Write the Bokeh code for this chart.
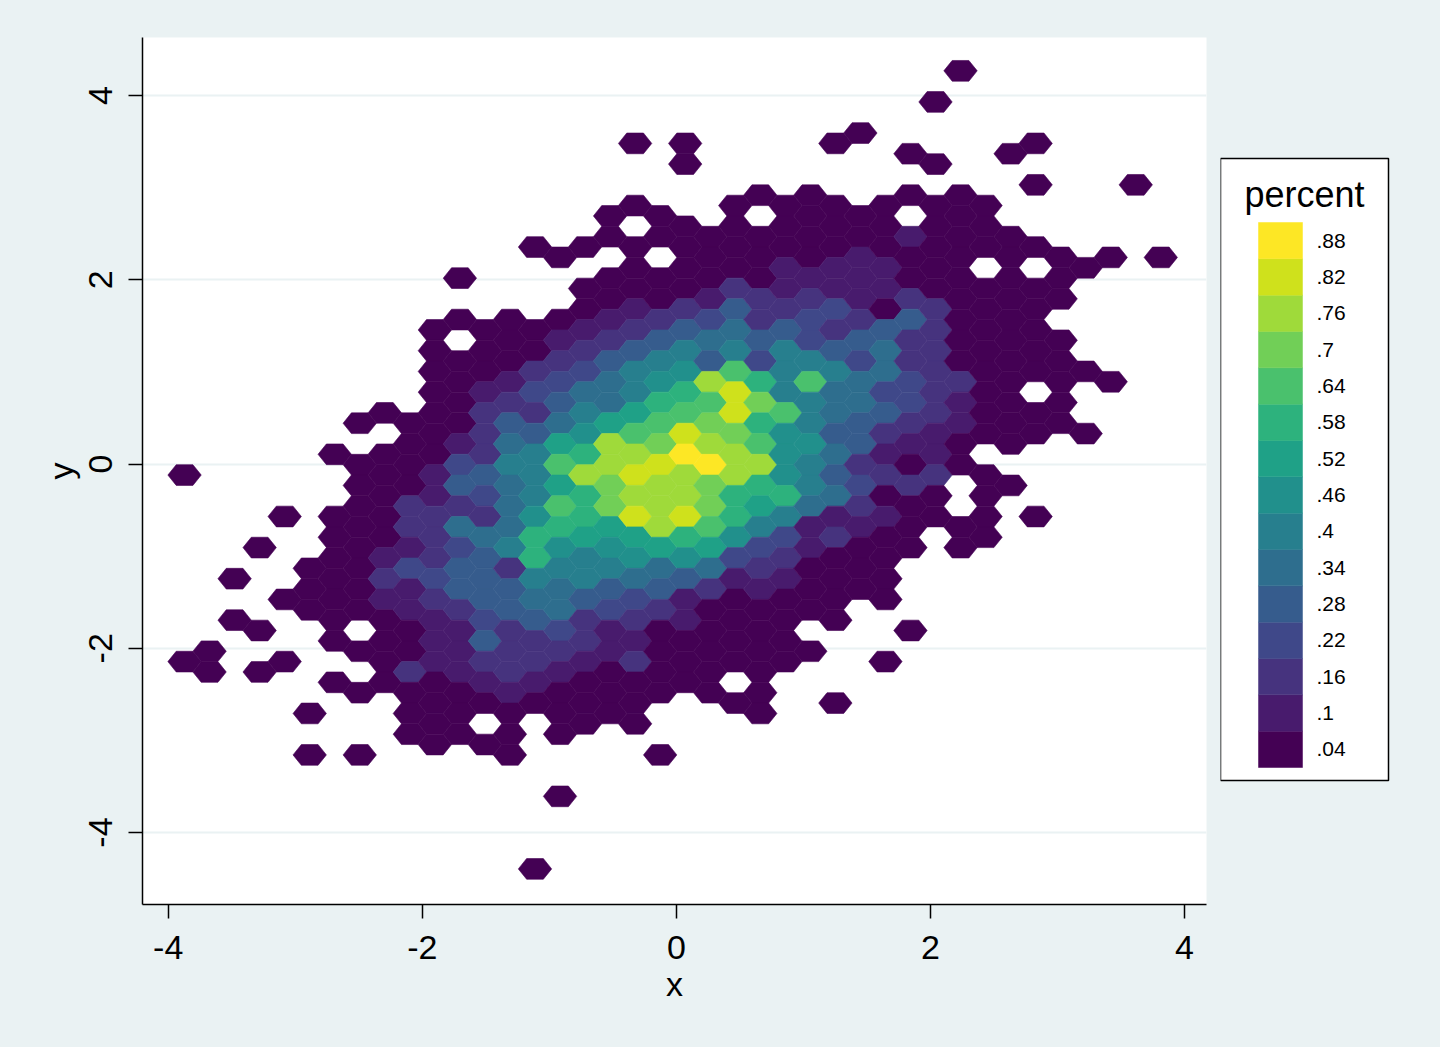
from bokeh.plotting import figure
from bokeh.layouts import row
from bokeh.models import Range1d, FixedTicker, ColumnDataSource, CustomJSTickFormatter
from bokeh.embed import file_html
from bokeh.resources import INLINE
from bokeh.core.properties import value

FONT = "Liberation Sans"
BG = "#EAF2F3"

# ---- colour scale (legend) ----
LEVEL_VALUES = [0.04, 0.10, 0.16, 0.22, 0.28, 0.34, 0.40, 0.46, 0.52, 0.58, 0.64, 0.70, 0.76, 0.82, 0.88]
LEVEL_LABELS = [".04", ".1", ".16", ".22", ".28", ".34", ".4", ".46", ".52", ".58", ".64", ".7", ".76", ".82", ".88"]
PALETTE = ["#440154", "#481B6D", "#46337E", "#3F4889", "#365C8D", "#2E6E8E", "#277F8E", "#21908C",
           "#1FA187", "#2DB27D", "#4AC16D", "#71CF57", "#9FDA3A", "#CFE11C", "#FDE725"]
TICKS = [-4, -2, 0, 2, 4]

# ---- hexagon bin grid (data units) ----
X0 = -3.8715    # centre of bin column 0
DX = 0.19704    # column step
Y0 = 4.2681     # centre of half-row 0
DYH = 0.11251   # half-row step (columns alternate by half a row)

# per column: first half-row index, then level (1..f = colour class) for every second half-row; '.' = empty bin
COL_START = [39, 56, 49, 46, 43, 48, 37, 34, 33, 34, 25, 20, 25, 24, 17, 18, 17, 14, 7, 14,
             7, 16, 13, 12, 13, 12, 7, 6, 13, 8, 3, 0, 13, 8, 7, 18, 19, 18, 11, 18]
COL_LEVELS = [
    "1........1",
    "11",
    "1.1",
    "1...1.1",
    "1...1..1",
    "111....1.1",
    "1..1111111.1",
    "1.11111111.1.1..1",
    "1.111112321111",
    "1111332422113111",
    "111111122333432221111",
    "1.1.1111245364553222111",
    "1112333543655545321.1",
    "1112356766673553332111",
    "1...1134357778aa7653321.......1",
    "1..1234569b9ba8766432111..1",
    "1.11234678adaa9775332111",
    "11.11235669ddcc9875422111",
    "1..1.111235779bdede9864323111",
    "11.113578abceddd96531111..1",
    "11..11113578abefddea8522111",
    "1112465dbcdfccb96311111",
    "11113567beecddaa8421111.1",
    "1.1113354acabda97432111111",
    "1112235777b888a74321111",
    "111123447b77877622111.1",
    "1..111224357665656231111...1",
    "1...1122235466553432111",
    "11122156645323121111..1",
    "1.1.2113533443213111...1",
    "1..1.1111133333322311",
    "1.....11111111132211..11",
    "111.11111111.1111",
    "1...11111111111.1",
    "1.1..1.11111.11...1",
    "111.11111",
    "1....1..1",
    "1.....1",
    "1",
    "1",
]

xs_c, ys_c, lev = [], [], []
for i, (k0, s) in enumerate(zip(COL_START, COL_LEVELS)):
    assert (i + k0) % 2 == 1
    for m, ch in enumerate(s):
        if ch == ".":
            continue
        k = k0 + 2 * m
        xs_c.append(X0 + DX * i)
        ys_c.append(Y0 - DYH * k)
        lev.append(int(ch, 16))

R = DX / 1.5
H = DYH
hx = [[x + R, x + R / 2, x - R / 2, x - R, x - R / 2, x + R / 2] for x in xs_c]
hy = [[y, y + H, y + H, y, y - H, y - H] for y in ys_c]
src = ColumnDataSource(dict(xs=hx, ys=hy, color=[PALETTE[v - 1] for v in lev],
                            percent=[LEVEL_VALUES[v - 1] for v in lev]))

# ---- main plot ----
p = figure(width=1220, height=1047, x_range=Range1d(-4.2025, 4.173), y_range=Range1d(-4.7815, 4.630),
           output_backend="svg", toolbar_location=None,
           min_border_left=142, min_border_right=14, min_border_top=37, min_border_bottom=143)
p.background_fill_color = "white"
p.border_fill_color = BG
p.outline_line_color = None

p.patches("xs", "ys", source=src, fill_color="color", line_color="color", line_width=0.6)

fmt = CustomJSTickFormatter(code="return String(tick);")
for ax in (p.xaxis[0], p.yaxis[0]):
    ax.ticker = FixedTicker(ticks=TICKS)
    ax.formatter = fmt
    ax.minor_tick_line_color = None
    ax.major_tick_in = 0
    ax.major_tick_out = 14
    ax.major_tick_line_width = 1.5
    ax.axis_line_width = 1.5
    ax.axis_line_color = "black"
    ax.major_tick_line_color = "black"
    ax.major_label_text_font = FONT
    ax.major_label_text_font_size = "34px"
    ax.major_label_text_color = "black"
    ax.axis_label_text_font = FONT
    ax.axis_label_text_font_size = "34px"
    ax.axis_label_text_font_style = "normal"
    ax.axis_label_text_color = "black"

p.xaxis.axis_label = "x"
p.yaxis.axis_label = "y"
p.xaxis.major_label_standoff = 17
p.xaxis.axis_label_standoff = 3
p.yaxis.major_label_orientation = "vertical"
p.yaxis.major_label_standoff = 16
p.yaxis.axis_label_standoff = 7

p.xgrid.visible = False
p.ygrid.ticker = FixedTicker(ticks=TICKS)
p.ygrid.grid_line_color = BG
p.ygrid.grid_line_width = 2

# ---- legend panel (same frame height as the main plot; legend value scale on y) ----
# y maps legend values: .91 -> band top, .01 -> band bottom
q = figure(width=220, height=1047, x_range=Range1d(0, 220), y_range=Range1d(-0.21622, 1.21548),
           output_backend="svg", toolbar_location=None, x_axis_type=None, y_axis_type=None,
           min_border_left=0, min_border_right=0, min_border_top=37, min_border_bottom=143)
q.background_fill_color = BG
q.border_fill_color = BG
q.outline_line_color = None
q.xgrid.visible = False
q.ygrid.visible = False

q.quad(left=0, right=168, bottom=-0.0115, top=1.0157, fill_color="white",
       line_color="black", line_width=1.5)
q.rect(x=60, y=LEVEL_VALUES, width=44, height=0.06, fill_color=PALETTE, line_color=PALETTE, line_width=0.5)
q.text(x=96, y=LEVEL_VALUES, text=LEVEL_LABELS, text_font=value(FONT), text_font_size="21px",
       text_baseline="middle", text_align="left", text_color="black")
q.text(x=[24], y=[0.956], text=["percent"], text_font=value(FONT), text_font_size="36px",
       text_baseline="middle", text_align="left", text_color="black")

layout = row(p, q)
html = file_html(layout, INLINE, title="hexplot")
html = html.replace("</head>", "<style>html, body { background-color: %s; }</style>\n</head>" % BG, 1)
open("out.html", "w").write(html)
